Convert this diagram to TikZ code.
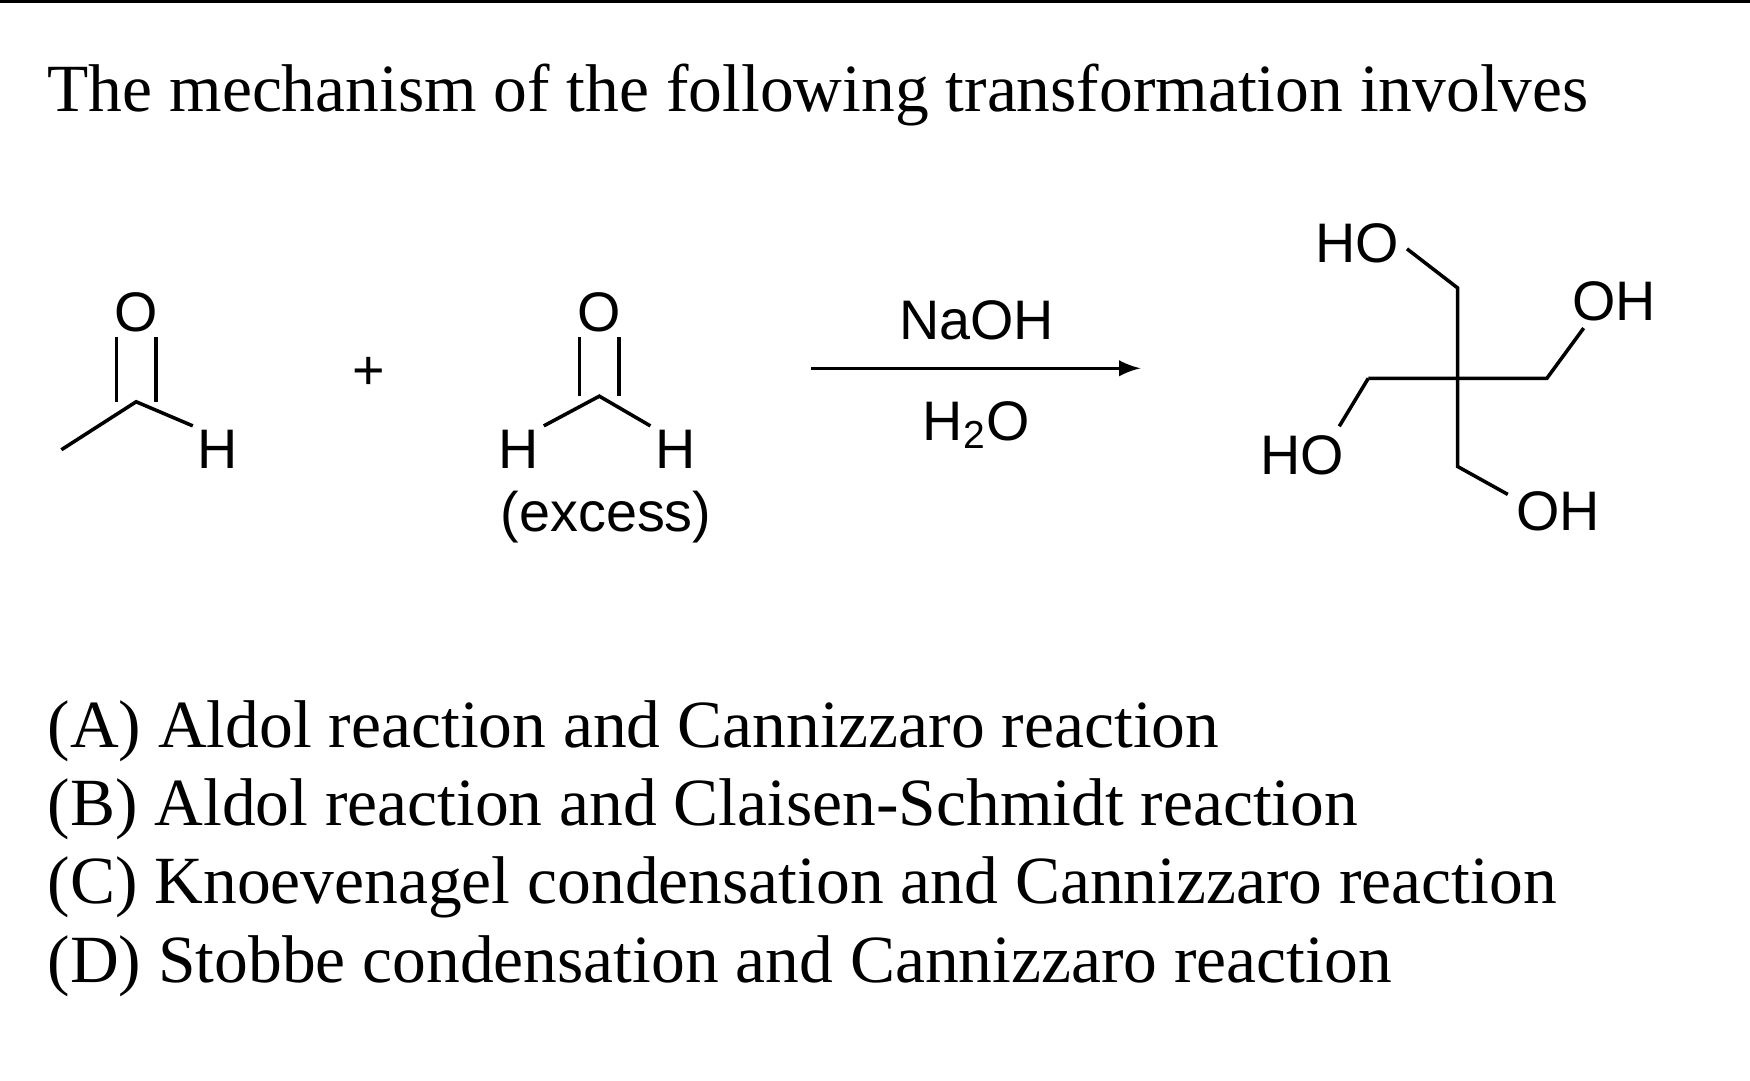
\documentclass[tikz,border=0pt]{standalone}
\usepackage{fontspec}
\setmainfont{Liberation Serif}
\newfontfamily\chem{Liberation Sans}
\begin{document}
\begin{tikzpicture}[x=0.01cm,y=-0.01cm,
  txt/.style={anchor=base west,inner sep=0,font=\fontsize{17.2}{20}\selectfont},
  lab/.style={inner sep=1pt,font=\chem\fontsize{14.2}{16}\selectfont},
  bond/.style={line width=0.9pt},
  arr/.style={line width=0.9pt,-latex}]
\useasboundingbox (0,0) rectangle (1568,968);
\draw[line width=0.8pt] (0,1) -- (1568,1);
\node[txt] (t) at (42,100) {The mechanism of the following transformation involves};
% acetaldehyde
\coordinate (m1) at (55,403);
\coordinate (c1) at (122,360);
\node[lab] (o1) at (122,280) {O};
\node[lab] (h1) at (195,403) {H};
\draw[bond] (m1) -- (c1) -- (h1.north west);
\draw[bond] ([xshift=-5]c1) -- ([xshift=-5]o1.south);
\draw[bond] ([xshift=5]c1) -- ([xshift=5]o1.south);
\node[lab] (plus) at (330,335) {+};
% formaldehyde
\coordinate (c2) at (537,355);
\node[lab] (o2) at (537,280) {O};
\node[lab] (h2) at (465,403) {H};
\node[lab] (h3) at (605,403) {H};
\draw[bond] (h2.north east) -- (c2) -- (h3.north west);
\draw[bond] ([xshift=-5]c2) -- ([xshift=-5]o2.south);
\draw[bond] ([xshift=5]c2) -- ([xshift=5]o2.south);
\node[lab] (ex) at (543,463) {(excess)};
% arrow
\coordinate (a1) at (727,330);
\coordinate (a2) at (1022,330);
\draw[arr] (a1) -- (a2);
\node[lab] (naoh) at (875,287) {NaOH};
\node[lab] (h2o) at (875,381) {H\textsubscript{2}O};
% product
\coordinate (q) at (1306,339);
\coordinate (pu) at (1306,258);
\coordinate (pl) at (1226,339);
\coordinate (pr) at (1386,339);
\coordinate (pd) at (1306,418);
\node[lab] (ho1) at (1216,218) {HO};
\node[lab] (ho2) at (1167,408) {HO};
\node[lab] (oh1) at (1446,270) {OH};
\node[lab] (oh2) at (1396,458) {OH};
\draw[bond] (ho1.east) ++(3,5) -- (pu) -- (pd) -- (1351,443);
\draw[bond] (pl) -- (pr) -- (1419,294);
\draw[bond] (pl) -- (1200,382);
% options
\node[txt] (oa) at (42,670) {(A) Aldol reaction and Cannizzaro reaction};
\node[txt] (ob) at (42,740) {(B) Aldol reaction and Claisen-Schmidt reaction};
\node[txt] (oc) at (42,810) {(C) Knoevenagel condensation and Cannizzaro reaction};
\node[txt] (od) at (42,880) {(D) Stobbe condensation and Cannizzaro reaction};
\end{tikzpicture}
\end{document}
